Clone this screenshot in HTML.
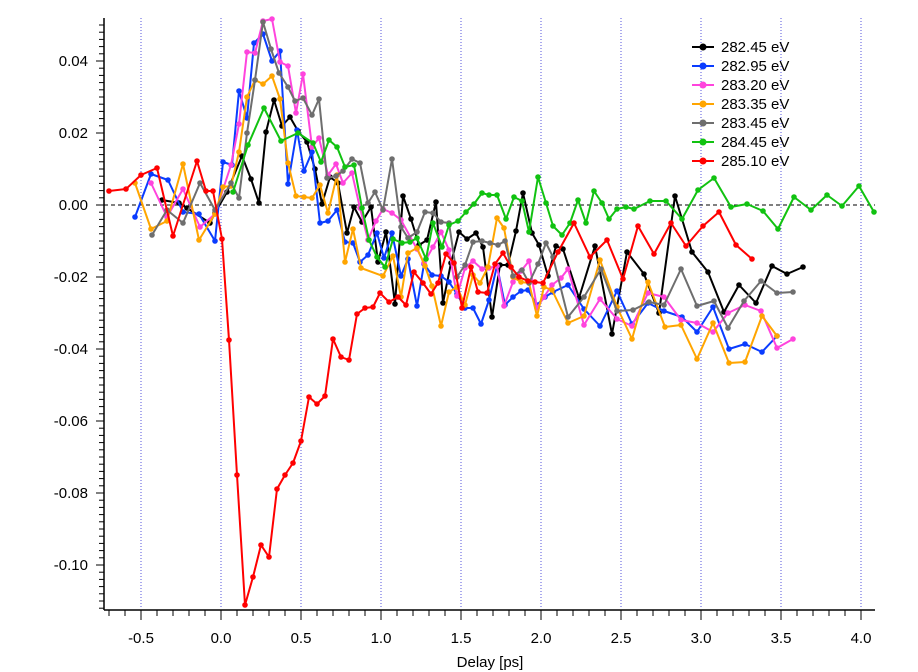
<!DOCTYPE html>
<html><head><meta charset="utf-8"><style>
html,body{margin:0;padding:0;background:#fff;}
svg{display:block;font-family:"Liberation Sans",sans-serif;}
</style></head><body>
<svg id="s" width="918" height="672" viewBox="0 0 918 672" xmlns="http://www.w3.org/2000/svg"></svg>
<script>
const s=document.getElementById('s');let h='';
// grid
for(let v=-0.5;v<=4.01;v+=0.5){const x=221+v*160;h+=`<line x1="${x}" y1="18" x2="${x}" y2="609" stroke="#5555dd" stroke-width="1" stroke-dasharray="1,2"/>`;}
h+=`<line x1="104" y1="205" x2="875" y2="205" stroke="#000" stroke-width="1" stroke-dasharray="4,3"/>`;
// axes
h+=`<line x1="104" y1="18" x2="104" y2="610" stroke="#000" stroke-width="1.5"/>`;
h+=`<line x1="104" y1="610" x2="875" y2="610" stroke="#000" stroke-width="1.5"/>`;
for(let i=-7;i<=40;i++){const x=221+i*16;if(x<104||x>875)continue;const maj=i%5==0;h+=`<line x1="${x}" y1="610" x2="${x}" y2="${maj?620:616}" stroke="#000"/>`;
 if(maj){const lab=(i/10).toFixed(1);h+=`<text x="${x}" y="643" font-size="15" text-anchor="middle">${lab}</text>`;}}
for(let i=-56;i<=26;i++){const y=205-i*7.2;if(y<18||y>609)continue;const maj=i%10==0;h+=`<line x1="${maj?96:99}" y1="${y}" x2="104" y2="${y}" stroke="#000"/>`;
 if(maj){const lab=(i/500).toFixed(2);h+=`<text x="88" y="${y+5}" font-size="15" text-anchor="end">${lab}</text>`;}}
h+=`<text x="490" y="667" font-size="15" text-anchor="middle">Delay [ps]</text>`;
const S={
black:[[162,200],[179,203],[187,208],[210,223],[215,213],[227,192],[242,156],[251,179],[259,203],[266,132],[274,100],[282,126],[290,117],[298,131],[307,142],[315,169],[322,204],[330,177],[338,183],[347,233],[354,207],[362,222],[371,207],[378,262],[386,232],[395,304],[403,196],[411,219],[419,245],[427,240],[436,202],[443,303],[451,263],[459,232],[467,239],[476,233],[483,247],[492,317],[500,265],[508,265],[516,231],[523,193],[532,233],[539,245],[548,276],[556,246],[563,249],[579,298],[595,246],[612,334],[627,252],[644,274],[659,313],[675,196],[692,252],[708,272],[724,312],[739,285],[756,303],[772,266],[787,274],[803,267]],
blue:[[135,217],[151,174],[168,180],[183,212],[199,214],[215,241],[223,162],[232,165],[239,91],[247,118],[254,43],[263,34],[272,61],[280,51],[288,184],[297,130],[304,171],[312,152],[320,223],[328,221],[337,210],[345,242],[353,243],[360,262],[368,255],[377,233],[384,258],[392,233],[401,276],[408,259],[417,306],[424,264],[432,275],[441,276],[449,282],[457,294],[465,308],[473,308],[481,324],[489,300],[497,266],[505,305],[513,297],[521,291],[528,290],[537,305],[545,297],[553,292],[568,285],[584,309],[600,326],[617,291],[632,324],[648,303],[664,311],[682,317],[697,332],[713,307],[729,349],[745,344],[762,352],[777,336]],
pink:[[151,183],[167,217],[183,189],[200,227],[215,214],[231,165],[239,124],[247,52],[255,53],[263,21],[272,19],[280,62],[288,66],[296,113],[303,74],[312,147],[319,138],[328,175],[336,164],[343,183],[352,173],[360,208],[368,240],[376,221],[383,209],[392,213],[401,220],[417,249],[424,263],[433,247],[441,232],[449,250],[457,296],[465,268],[473,261],[482,269],[489,268],[497,266],[504,306],[513,282],[521,271],[529,261],[537,308],[544,297],[552,285],[561,278],[568,269],[584,325],[600,299],[617,319],[632,326],[648,293],[664,297],[681,320],[697,323],[713,332],[728,313],[745,305],[761,311],[777,348],[793,339]],
orange:[[135,183],[151,229],[167,221],[183,164],[199,240],[215,214],[223,187],[231,186],[239,152],[247,97],[255,80],[263,84],[272,76],[280,99],[288,163],[296,196],[304,197],[312,198],[320,185],[328,213],[337,175],[345,262],[353,229],[361,268],[383,276],[393,256],[401,297],[408,253],[417,248],[425,266],[432,286],[441,326],[449,292],[457,287],[465,305],[473,275],[480,283],[488,267],[497,218],[504,228],[513,277],[521,282],[529,283],[537,316],[544,287],[552,290],[568,323],[584,316],[600,260],[617,307],[632,339],[648,282],[665,327],[681,325],[697,359],[713,323],[729,363],[745,362],[762,316],[777,336]],
grey:[[152,235],[167,210],[183,223],[200,183],[215,210],[231,183],[239,198],[247,133],[255,80],[263,22],[271,49],[279,73],[288,87],[295,101],[303,98],[312,115],[319,99],[327,178],[336,176],[343,171],[352,159],[360,163],[368,203],[375,192],[383,210],[392,159],[401,227],[408,238],[417,232],[425,212],[433,213],[441,222],[449,223],[457,277],[465,265],[473,242],[482,241],[490,243],[498,245],[505,241],[513,276],[522,270],[529,283],[538,264],[546,243],[553,257],[568,317],[584,297],[601,269],[617,311],[633,310],[649,302],[664,305],[681,269],[697,306],[714,301],[728,328],[744,301],[761,281],[777,293],[793,292]],
green:[[233,192],[248,145],[264,108],[281,141],[298,133],[313,143],[321,162],[329,140],[337,147],[345,167],[354,165],[362,208],[369,240],[377,257],[385,267],[393,239],[402,243],[410,242],[417,238],[426,259],[433,223],[442,247],[449,225],[458,221],[466,212],[474,204],[482,193],[489,195],[497,195],[506,219],[514,197],[522,201],[529,232],[538,177],[546,203],[553,226],[562,235],[570,223],[578,200],[586,223],[594,191],[602,203],[609,219],[617,209],[626,207],[634,209],[650,201],[666,201],[682,219],[698,190],[714,178],[731,207],[747,204],[763,211],[778,229],[794,197],[811,210],[827,195],[842,206],[859,186],[874,212]],
red:[[109,191],[126,189],[141,175],[157,168],[173,236],[197,161],[206,191],[213,191],[222,239],[229,340],[237,475],[245,605],[253,577],[261,545],[269,557],[277,489],[285,475],[293,463],[301,441],[309,397],[317,404],[325,396],[333,339],[341,357],[349,360],[357,314],[365,308],[373,307],[380,293],[389,302],[398,297],[406,305],[414,272],[423,283],[431,294],[438,283],[446,254],[454,263],[462,308],[471,267],[478,292],[487,293],[495,264],[503,253],[511,267],[519,277],[528,281],[535,282],[543,283],[558,252],[574,223],[590,257],[607,240],[623,279],[638,226],[654,254],[671,223],[686,246],[703,226],[719,212],[736,245],[752,259]]
};
const C={black:'#000000',blue:'#0a3cff',pink:'#ff44dd',orange:'#ffa500',grey:'#6e6e6e',green:'#11c211',red:'#ff0000'};
for(const k of ['black','blue','pink','orange','grey','green','red']){
 h+=`<polyline fill="none" stroke="${C[k]}" stroke-width="2" stroke-linejoin="round" points="${S[k].map(p=>p.join(',')).join(' ')}"/>`;
 for(const p of S[k])h+=`<circle cx="${p[0]}" cy="${p[1]}" r="2.8" fill="${C[k]}"/>`;
}
const L=[['black','282.45 eV'],['blue','282.95 eV'],['pink','283.20 eV'],['orange','283.35 eV'],['grey','283.45 eV'],['green','284.45 eV'],['red','285.10 eV']];
L.forEach((l,i)=>{const y=47+i*19;h+=`<line x1="692" y1="${y}" x2="714" y2="${y}" stroke="${C[l[0]]}" stroke-width="2"/><circle cx="703" cy="${y}" r="3.5" fill="${C[l[0]]}"/><text x="721" y="${y+5}" font-size="15">${l[1]}</text>`;});
s.innerHTML=h;
</script>
</body></html>
